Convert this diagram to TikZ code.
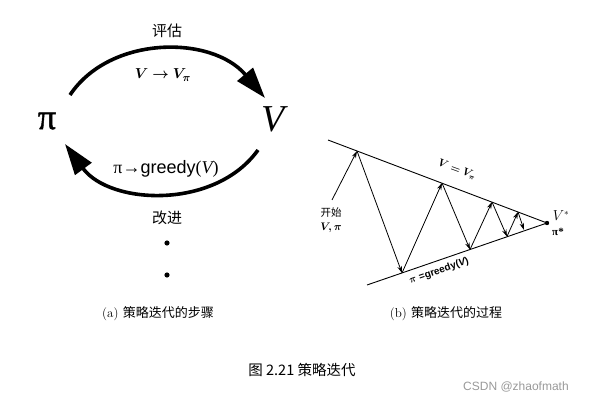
\documentclass[tikz,border=0pt]{standalone}
\usepackage{fontspec}
\usepackage{bm}
\usetikzlibrary{arrows.meta}
\newfontfamily\cjk{Noto Sans CJK SC}
\newfontfamily\lserif{Liberation Serif}
\newfontfamily\piserif[FakeBold=1.2]{Liberation Serif}
\newfontfamily\lsans{Liberation Sans}
\tikzset{
  bigarc/.style={line width=3.6pt, -{Triangle[length=31pt,width=20pt]}},
  thinline/.style={line width=0.9pt},
  zig/.style={line width=0.8pt, -{Stealth[length=7pt,width=4.5pt]}},
  lbl/.style={inner sep=0pt},
}
\begin{document}
\begin{tikzpicture}[x=1pt,y=-1pt]
\useasboundingbox (0,0) rectangle (592,403);
% ---------- (a) ----------
\node[lbl] (pi) at (47,121) {\fontsize{36}{36}\selectfont\piserif π};
\node[lbl] (V) at (273,119) {\fontsize{38}{38}\selectfont\lserif\itshape V};
\coordinate (a1) at (70,95);
\coordinate (a2) at (265,98);
\coordinate (b1) at (258,150);
\coordinate (b2) at (65,144);
\draw[bigarc] (a1) .. controls (110,35) and (212,35) .. (a2);
\draw[bigarc] (b1) .. controls (215,210) and (110,205) .. (b2);
\node[lbl] (eval) at (167,31) {\fontsize{15}{15}\selectfont\cjk 评估};
\node[lbl] (evalf) at (163,75) {\fontsize{15.5}{15.5}\selectfont$\bm{V\rightarrow V_\pi}$};
\node[lbl] (impf) at (166,169) {\fontsize{18}{18}\selectfont\lserif π\lsans→greedy\lserif(\itshape V\upshape)};
\node[lbl] (imp) at (167,218) {\fontsize{15}{15}\selectfont\cjk 改进};
\fill (167,243) circle (2.6pt) (167,275) circle (2.6pt);
% ---------- (b) ----------
\coordinate (u0) at (328,140);
\coordinate (l0) at (367,285);
\coordinate (tip) at (547,223);
\draw[thinline] (u0) -- (tip) -- (l0);
\fill (tip) circle (2.2pt);
\coordinate (s) at (332,200);
\coordinate (p1) at (357,151);
\coordinate (q1) at (402,273);
\coordinate (p2) at (442,183);
\coordinate (q2) at (470,249.5);
\coordinate (p3) at (492,202);
\coordinate (q3) at (507,236.5);
\coordinate (p4) at (518,212);
\coordinate (q4) at (524,230);
\draw[zig] (s) -- (p1);
\draw[zig] (p1) -- (q1);
\draw[zig] (q1) -- (p2);
\draw[zig] (p2) -- (q2);
\draw[zig] (q2) -- (p3);
\draw[zig] (p3) -- (q3);
\draw[zig] (q3) -- (p4);
\draw[zig] (p4) -- (q4);
\node[lbl,rotate=-20] (vv) at (457,170) {\fontsize{10.5}{10.5}\selectfont$\bm{V=V_\pi}$};
\node[lbl,rotate=19] (pg) at (439,271) {\fontsize{10}{10}\selectfont$\bm{\pi}$ \lsans\bfseries =greedy(\itshape V\upshape)};
\node[lbl] (st) at (331,213) {\fontsize{10.5}{10.5}\selectfont\cjk 开始};
\node[lbl] (stv) at (331,228) {\fontsize{10.5}{10.5}\selectfont$\bm{V,\pi}$};
\node[lbl] (vs) at (561,216) {\fontsize{13.5}{13.5}\selectfont$V^*$};
\node[lbl] (ps) at (558,232) {\fontsize{11}{11}\selectfont\lserif\bfseries π*};
% ---------- captions ----------
\node[lbl] (capa) at (158,314) {\fontsize{13}{13}\selectfont (a) \cjk 策略迭代的步骤};
\node[lbl] (capb) at (446,314) {\fontsize{13}{13}\selectfont (b) \cjk 策略迭代的过程};
\node[lbl] (fig) at (302,370) {\fontsize{14.5}{14.5}\selectfont\cjk 图 2.21 策略迭代};
\node[lbl, text=black!40] (wm) at (516,387) {\fontsize{12}{12}\selectfont\lsans CSDN @zhaofmath};
\end{tikzpicture}
\end{document}
